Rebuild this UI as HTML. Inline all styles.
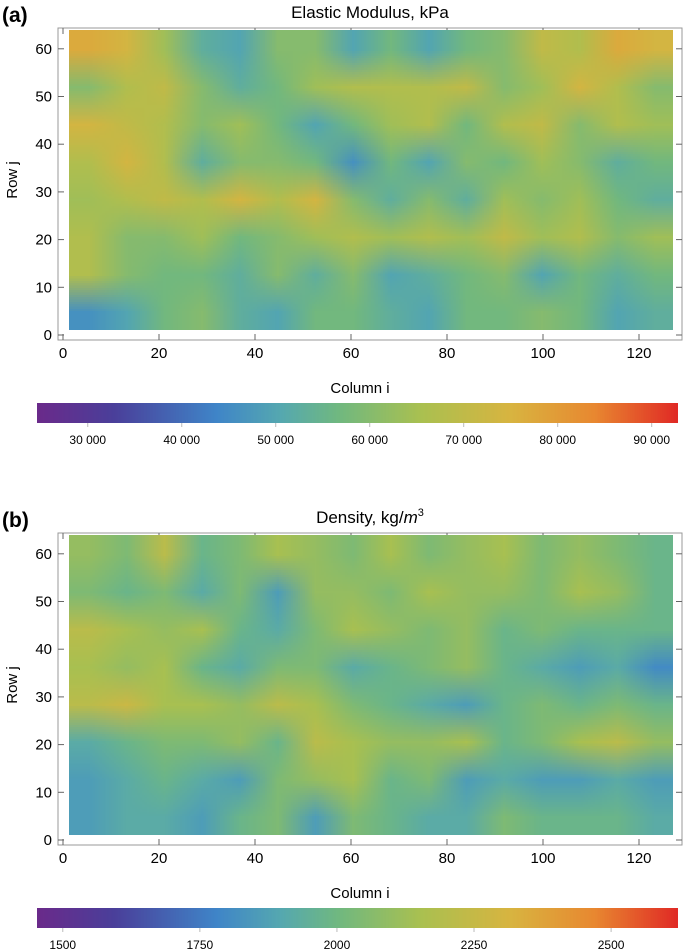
<!DOCTYPE html>
<html><head><meta charset="utf-8"><style>
body{margin:0;background:#fff;width:685px;height:949px;overflow:hidden;position:relative;font-family:"Liberation Sans",sans-serif}
canvas{position:absolute}
svg{position:absolute;left:0;top:0}
</style></head><body>
<svg id="svg" width="685" height="949"></svg>
<script>
// Panel (a) Elastic modulus, kPa — coarse grid, rows top (j high) to bottom, 16 columns
const modulusGrid = [
[77000,74000,64000,53000,50000,60000,60000,50000,57000,50000,57000,60000,70000,67000,77000,74000],
[60000,67000,70000,60000,53000,57000,64000,67000,67000,67000,70000,60000,64000,74000,67000,60000],
[74000,70000,67000,60000,64000,57000,50000,57000,64000,67000,57000,67000,70000,60000,67000,64000],
[67000,74000,67000,53000,60000,60000,57000,46000,57000,50000,60000,57000,64000,60000,53000,57000],
[64000,67000,70000,67000,74000,67000,74000,60000,53000,60000,53000,64000,60000,64000,57000,53000],
[67000,60000,60000,64000,57000,60000,64000,67000,64000,67000,64000,70000,64000,67000,60000,64000],
[67000,60000,57000,57000,53000,60000,53000,60000,50000,53000,57000,60000,50000,57000,53000,57000],
[46000,50000,57000,60000,53000,50000,57000,57000,53000,50000,57000,57000,60000,57000,50000,53000]
];
const modulusTicks = [30000,40000,50000,60000,70000,80000,90000];
const modulusRange = [24600,92800];
// Panel (b) Density, kg/m^3
const densityGrid = [
[2100,2040,2210,1980,2040,2150,2100,2040,2150,2040,2100,2150,2040,2100,2040,1980],
[2040,1980,2040,1920,2040,1860,2100,2100,2040,2150,2100,2100,2040,2150,2100,1980],
[2210,2150,2100,2150,1980,1920,2040,2150,2100,2040,2100,1980,2040,1980,1980,1980],
[2150,2100,2150,1980,1920,2040,2040,1920,1980,2040,2100,1980,1920,1860,1920,1800],
[2210,2270,2150,2150,2100,2210,2150,2040,1980,1920,1860,1980,2040,1980,2040,1980],
[1920,1980,2040,2040,2100,1980,2210,2150,2100,2100,2150,1980,2040,2150,2210,2100],
[1860,1920,1980,1920,1860,2040,2100,2150,1980,2040,1860,1920,1860,1860,1920,1860],
[1860,1920,1920,1860,1980,2040,1860,2040,1980,1920,1920,2040,1980,1980,1980,1920]
];
const densityTicks = [1500,1750,2000,2250,2500];
const densityRange = [1453,2622];
const xTicks = [0,20,40,60,80,100,120];
const yTicks = [0,10,20,30,40,50,60];

const stops=[[0,[106,42,138]],[0.12,[74,63,154]],[0.28,[63,133,200]],[0.38,[85,168,176]],[0.47,[112,184,128]],[0.6,[170,192,80]],[0.74,[216,180,64]],[0.87,[232,136,48]],[1,[224,42,37]]];
function cmap(t){t=Math.max(0,Math.min(1,t));for(let k=1;k<stops.length;k++){if(t<=stops[k][0]){const a=stops[k-1],b=stops[k],f=(t-a[0])/(b[0]-a[0]);return 'rgb('+a[1].map((v,i)=>Math.round(v+(b[1][i]-v)*f)).join(',')+')';}}}
const NS='http://www.w3.org/2000/svg',svg=document.getElementById('svg');
function el(tag,attrs,txt){const e=document.createElementNS(NS,tag);for(const k in attrs)e.setAttribute(k,attrs[k]);if(txt!==undefined)e.textContent=txt;svg.appendChild(e);return e;}
function xS(i){return 63+4.8*i;}
function yS(j,off){return 335+off-4.77*j;}
function fmt(v){return v>=10000?String(v).replace(/(\d+)(\d{3})$/,'$1 $2'):String(v);}

function panel(off,label,title,grid,range,ticks,name){
  const lab=el('text',{x:2,y:22+off,'font-size':21,'font-weight':'bold'},label);
  
  
  const t=el('text',{x:370,y:18+off,'font-size':17,'text-anchor':'middle'});
  
  
  t.innerHTML=title;
  const rows=grid.length,cols=grid[0].length;
  const cv=document.createElement('canvas');cv.width=cols;cv.height=rows;
  const x0=xS(1.25),x1=xS(127),y0=yS(64,off),y1=yS(1,off);
  cv.style.left=x0+'px';cv.style.top=y0+'px';cv.style.width=(x1-x0)+'px';cv.style.height=(y1-y0)+'px';
  
  
  const c=cv.getContext('2d');
  for(let r=0;r<rows;r++)for(let q=0;q<cols;q++){c.fillStyle=cmap((grid[r][q]-range[0])/(range[1]-range[0]));c.fillRect(q,r,1,1);}
  document.body.appendChild(cv);
  const fr=el('rect',{x:58,y:28+off,width:624,height:312,fill:'none',stroke:'#999','stroke-width':1});
  
  
  for(const v of xTicks){
    const x=xS(v);
    el('line',{x1:x,x2:x,y1:340+off,y2:334+off,stroke:'#666'});
    el('line',{x1:x,x2:x,y1:28+off,y2:34+off,stroke:'#666'});
    const tl=el('text',{x:x,y:358+off,'font-size':15,'text-anchor':'middle'},v);
    
    
  }
  for(const v of yTicks){
    const y=yS(v,off);
    el('line',{x1:58,x2:64,y1:y,y2:y,stroke:'#666'});
    el('line',{x1:682,x2:676,y1:y,y2:y,stroke:'#666'});
    const tl=el('text',{x:52,y:y+5,'font-size':15,'text-anchor':'end'},v);
    
    
  }
  const yt=el('text',{x:0,y:0,'font-size':15,'text-anchor':'middle',transform:'translate(17,'+(180+off)+') rotate(-90)'},'Row j');
  
  
  const xt=el('text',{x:360,y:393+off,'font-size':15,'text-anchor':'middle'},'Column i');
  
  
  const cb=document.createElement('canvas');cb.width=641;cb.height=1;
  cb.style.left='37px';cb.style.top=(403+off)+'px';cb.style.width='641px';cb.style.height='20px';
  
  
  const cc=cb.getContext('2d');
  for(let p=0;p<641;p++){cc.fillStyle=cmap(p/640);cc.fillRect(p,0,1,1);}
  document.body.appendChild(cb);
  for(const v of ticks){
    const x=37+641*(v-range[0])/(range[1]-range[0]);
    el('line',{x1:x,x2:x,y1:423+off,y2:427+off,stroke:'#bbb'});
    const tl=el('text',{x:x,y:444+off,'font-size':12,'text-anchor':'middle'},fmt(v));
    
    
  }
}
panel(0,'(a)','Elastic Modulus, kPa',modulusGrid,modulusRange,modulusTicks,'modulus');
panel(505,'(b)','Density, kg/<tspan font-style="italic">m</tspan><tspan dy="-7" font-size="11">3</tspan>',densityGrid,densityRange,densityTicks,'density');
</script>
</body></html>
